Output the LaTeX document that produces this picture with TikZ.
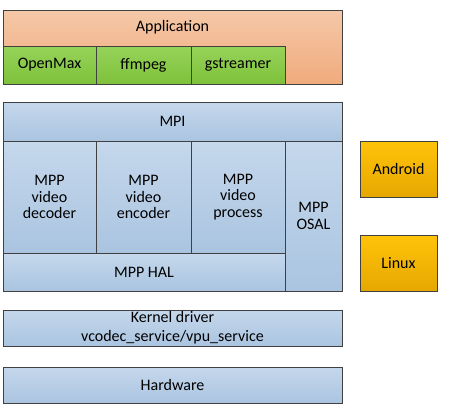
\documentclass[tikz,border=0pt]{standalone}
\usepackage{fontspec}
\setmainfont{Carlito}
\usepackage{tikz}

\definecolor{appTop}{HTML}{F5C8A8}
\definecolor{appBot}{HTML}{F0AB7C}
\definecolor{grnTop}{HTML}{96D35A}
\definecolor{grnBot}{HTML}{7EC13A}
\definecolor{bluTop}{HTML}{C5D8EC}
\definecolor{bluBot}{HTML}{AAC4E0}
\definecolor{gldTop}{HTML}{FFC30A}
\definecolor{gldBot}{HTML}{E6A800}

\tikzset{
	box/.style={draw=black!75, line width=0.8pt, inner sep=0pt, outer sep=0pt, anchor=north west, align=center, font=\fontsize{16}{16.8}\selectfont},
	app/.style={box, top color=appTop, bottom color=appBot},
	gbox/.style={box, top color=grnTop, bottom color=grnBot},
	bbox/.style={box, top color=bluTop, bottom color=bluBot},
	obox/.style={box, top color=gldTop, bottom color=gldBot}
}

\begin{document}
\begin{tikzpicture}[x=1pt,y=-1pt]
	\useasboundingbox (0,0) rectangle (455,415);

	% application layer
	\node[app, minimum width=339pt, minimum height=74pt] (app) at (3,10) {};
	\node[font=\fontsize{16}{17}\selectfont] (applbl) at (172.5,27) {Application};
	\node[gbox, minimum width=93pt, minimum height=38pt] (omx) at (3,46) {OpenMax};
	\node[gbox, minimum width=95pt, minimum height=38pt] (ffm) at (96,46) {ffmpeg};
	\node[gbox, minimum width=94pt, minimum height=38pt] (gst) at (191,46) {gstreamer};

	% mpp
	\node[bbox, minimum width=339pt, minimum height=39pt] (mpi) at (3,102) {MPI};
	\node[bbox, minimum width=93pt, minimum height=112pt] (dec) at (3,141) {MPP\\video\\decoder};
	\node[bbox, minimum width=95pt, minimum height=112pt] (enc) at (96,141) {MPP\\video\\encoder};
	\node[bbox, minimum width=94pt, minimum height=112pt] (vpp) at (191,141) {MPP\\video\\process};
	\node[bbox, minimum width=282pt, minimum height=38pt] (hal) at (3,253) {MPP HAL};
	\node[bbox, minimum width=57pt, minimum height=150pt] (osal) at (285,141) {MPP\\OSAL};

	% os
	\node[obox, minimum width=77pt, minimum height=56pt] (android) at (360,141) {Android};
	\node[obox, minimum width=77pt, minimum height=56pt] (linux) at (360,235) {Linux};

	% kernel + hw
	\node[bbox, minimum width=339pt, minimum height=36pt, font=\fontsize{16}{19}\selectfont] (kdrv) at (3,310) {Kernel driver\\vcodec\_service/vpu\_service};
	\node[bbox, minimum width=339pt, minimum height=36pt] (hw) at (3,367) {Hardware};
\end{tikzpicture}
\end{document}
